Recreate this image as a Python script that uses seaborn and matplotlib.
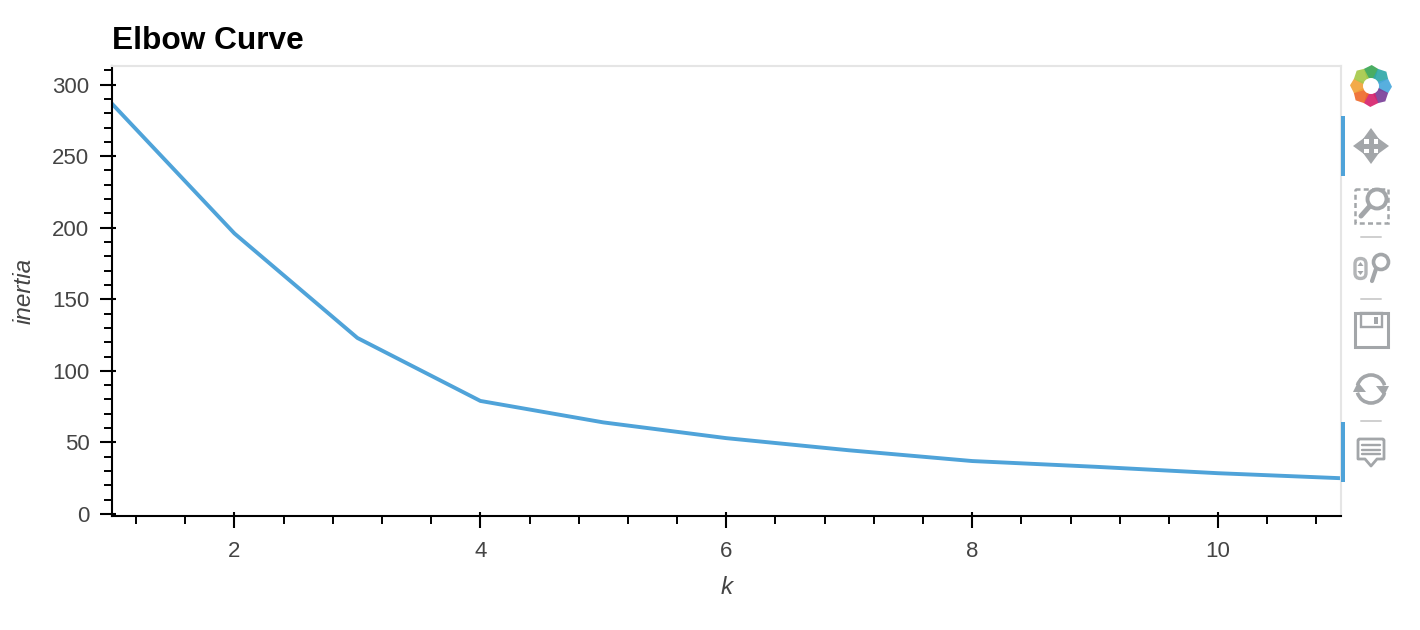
import matplotlib
matplotlib.use('Agg')
import matplotlib.pyplot as plt
from matplotlib.patches import Rectangle, Polygon, Circle, Arc, FancyBboxPatch
from matplotlib.ticker import MultipleLocator
import numpy as np
import pandas as pd
import seaborn as sns

k_values = [1, 2, 3, 4, 5, 6, 7, 8, 9, 10, 11]
inertia = [287, 196, 123, 79, 64, 53, 44.5, 37, 33, 28.5, 25]

W, H = 1420, 630
LEFT, RIGHT, TOP, BOTTOM = 111.5, 1341, 66, 516
LINE_COLOR = '#4fa3d9'
TEXT_COLOR = '#444444'
ICON = '#a3a6a9'
SEP = '#cfcfcf'

sns.set_theme(style='white')
plt.rcParams['font.family'] = ['Liberation Sans', 'DejaVu Sans']

df = pd.DataFrame({'k': k_values, 'inertia': inertia})

fig = plt.figure(figsize=(W / 100, H / 100), dpi=100, facecolor='white')
ax = fig.add_axes([LEFT / W, 1 - BOTTOM / H, (RIGHT - LEFT) / W, (BOTTOM - TOP) / H])

sns.lineplot(data=df, x='k', y='inertia', color=LINE_COLOR, linewidth=2.8, ax=ax)
ax.set_xlim(1, 11)
ax.set_ylim(-1.4, 313)

# axes look like bokeh: black left/bottom, faint outline elsewhere
for side in ['top', 'right']:
    ax.spines[side].set_color('#e5e5e5')
    ax.spines[side].set_linewidth(1.5)
for side in ['left', 'bottom']:
    ax.spines[side].set_color('black')
    ax.spines[side].set_linewidth(1.5)

ax.xaxis.set_major_locator(MultipleLocator(2))
ax.xaxis.set_minor_locator(MultipleLocator(0.4))
ax.yaxis.set_major_locator(MultipleLocator(50))
ax.yaxis.set_minor_locator(MultipleLocator(10))
ax.tick_params(axis='both', which='major', direction='out', length=8.4, width=1.5,
               color='black', labelcolor=TEXT_COLOR, labelsize=16, left=True, bottom=True)
ax.tick_params(axis='both', which='minor', direction='out', length=5.6, width=1.4,
               color='black', left=True, bottom=True)
ax.tick_params(axis='x', which='major', pad=9.5)
ax.tick_params(axis='y', which='major', pad=7.5)

# major ticks also poke a little inside the frame
for axis, which in [(ax.secondary_xaxis('bottom'), 'x'), (ax.secondary_yaxis('left'), 'y')]:
    axis.set_ticks(ax.get_xticks() if which == 'x' else ax.get_yticks())
    axis.tick_params(axis=which, direction='in', length=2.6, width=1.5, color='black',
                     labelbottom=False, labelleft=False)
    axis.spines[:].set_visible(False)

ax.set_xlabel('k', fontsize=17.5, style='italic', color=TEXT_COLOR, va='center')
ax.set_ylabel('inertia', fontsize=17.5, style='italic', color=TEXT_COLOR, va='center')
ax.xaxis.set_label_coords(0.5, -(587 - BOTTOM) / (BOTTOM - TOP))
ax.yaxis.set_label_coords(-(LEFT - 24) / (RIGHT - LEFT), 0.5)
ax.set_title('Elbow Curve', fontsize=22.8, fontweight='bold', color='black', loc='left', pad=12.5)

# toolbar drawn in pixel coordinates on an overlay
tb = fig.add_axes([0, 0, 1, 1], facecolor='none')
tb.set_xlim(0, W)
tb.set_ylim(H, 0)
tb.axis('off')

# logo, pinwheel of eight petals
petals = ['#3aa655', '#2fa8a8', '#4aa8dc', '#7b3f98', '#d6246e', '#ee6a2c', '#f2a33a', '#a6c94a']
for i, c in enumerate(petals):
    a = -90 + i * 45
    corners = [(6, a - 35), (18.5, a - 23), (21, a + 2), (18.5, a + 23), (6, a + 35)]
    pts = [(1371 + r * np.cos(np.radians(t)), 86 + r * np.sin(np.radians(t))) for r, t in corners]
    tb.add_patch(Polygon(pts, color=c, lw=0, alpha=0.92))
tb.add_patch(Circle((1371, 86), 8, color='white', lw=0))

# active tool markers
tb.add_patch(Rectangle((1341, 116), 4, 60, color=LINE_COLOR, lw=0))
tb.add_patch(Rectangle((1341, 422), 4, 60, color=LINE_COLOR, lw=0))

# pan
tb.add_patch(Polygon([(1371, 128), (1379, 139), (1363, 139)], color=ICON, lw=0))
tb.add_patch(Polygon([(1371, 164), (1379, 153), (1363, 153)], color=ICON, lw=0))
tb.add_patch(Polygon([(1353, 146), (1364, 138), (1364, 154)], color=ICON, lw=0))
tb.add_patch(Polygon([(1389, 146), (1378, 138), (1378, 154)], color=ICON, lw=0))
tb.plot([1371, 1371], [134, 158], color=ICON, lw=3.6, solid_capstyle='butt')
tb.plot([1359, 1383], [146, 146], color=ICON, lw=3.6, solid_capstyle='butt')

# box zoom
tb.add_patch(Rectangle((1354.5, 189), 33, 34, fill=False, ec=ICON, lw=1.8, ls=(0, (2, 1.3))))
tb.add_patch(Circle((1377, 199), 9.5, fc='white', ec=ICON, lw=2.8))
tb.plot([1369, 1361], [207, 216], color=ICON, lw=3.6)
tb.plot([1361, 1381], [237, 237], color=SEP, lw=1.4)

# wheel zoom
tb.add_patch(FancyBboxPatch((1355, 258.5), 11, 20, boxstyle='round,pad=0,rounding_size=5.5',
                            fill=False, ec='#b3b5b7', lw=2.4))
tb.add_patch(Polygon([(1360.5, 262), (1363.5, 266), (1357.5, 266)], color=ICON, lw=0))
tb.add_patch(Polygon([(1360.5, 275), (1363.5, 271), (1357.5, 271)], color=ICON, lw=0))
tb.add_patch(Circle((1381, 262), 7.5, fc='white', ec=ICON, lw=2.6))
tb.plot([1376, 1372], [269, 281], color=ICON, lw=3)
tb.plot([1361, 1381], [299, 299], color=SEP, lw=1.4)

# save
tb.add_patch(Rectangle((1354.5, 313), 33, 34, fill=False, ec=ICON, lw=2.2))
tb.add_patch(Rectangle((1361, 313), 20.5, 14, fill=False, ec=ICON, lw=1.7))
tb.add_patch(Rectangle((1373.5, 317), 4.5, 7, color=ICON, lw=0))

# reset
tb.add_patch(Arc((1371, 389), 28, 28, theta1=195, theta2=345, ec=ICON, lw=2.6))
tb.add_patch(Arc((1371, 389), 28, 28, theta1=15, theta2=165, ec=ICON, lw=2.6))
tb.add_patch(Polygon([(1389, 386), (1376, 386), (1384, 396)], color=ICON, lw=0))
tb.add_patch(Polygon([(1353, 392), (1366, 392), (1358, 382)], color=ICON, lw=0))
tb.plot([1361, 1381], [421, 421], color=SEP, lw=1.4)

# hover
tb.add_patch(Polygon([(1359, 439), (1383, 439), (1384, 440), (1384, 459), (1377, 459),
                      (1371, 466), (1365, 459), (1358, 459), (1358, 440)],
                     fill=False, ec=ICON, lw=2, joinstyle='round'))
for y in [445, 449.5, 454]:
    tb.plot([1362, 1380], [y, y], color=ICON, lw=1.7)

fig.savefig('out.png', dpi=100, facecolor='white')
